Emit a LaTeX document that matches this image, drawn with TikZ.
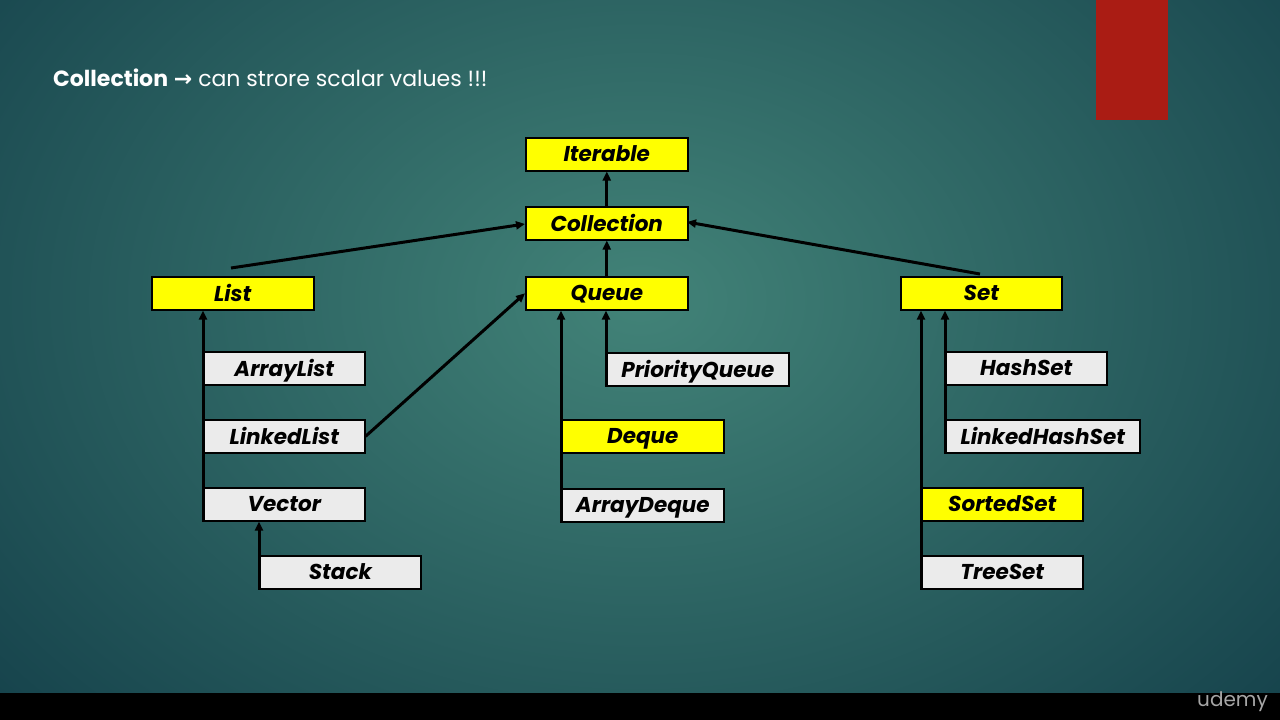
\documentclass[tikz,border=0pt]{standalone}
\usepackage{fontspec}
\setmainfont{Poppins}
\newfontfamily\symfont{DejaVu Sans}
\usetikzlibrary{arrows.meta}
\definecolor{bgin}{HTML}{428378}
\definecolor{bgout}{HTML}{14404A}
\definecolor{boxyel}{HTML}{FFFF00}
\definecolor{boxgray}{HTML}{EBEBEB}
\definecolor{redbar}{HTML}{AA1C14}
\tikzset{
  cls/.style={draw=black, line width=1.6pt, minimum height=33pt, inner sep=0pt, anchor=north west,
    font=\fontsize{21.5}{23}\selectfont\bfseries\itshape, text=black, text depth=1pt},
  yel/.style={cls, fill=boxyel},
  gry/.style={cls, fill=boxgray},
  link/.style={line width=3pt, -{Triangle[length=9pt,width=8pt]}},
}
\begin{document}
\begin{tikzpicture}[x=1pt,y=-1pt]
\useasboundingbox (0,0) rectangle (1280,720);
\shade[inner color=bgin, outer color=bgout] (-250,-350) rectangle (1530,950);
\fill[redbar] (1096,0) rectangle (1168,120);
\fill[black] (0,693) rectangle (1280,720);
\node[anchor=base west, text=white, font=\fontsize{22}{24}\selectfont, inner sep=0pt] (title) at (53,86)
  {\textbf{Collection} {\symfont\bfseries →} can strore scalar values !!!};
\node[anchor=base east, text=gray!70, font=\fontsize{20}{22}\selectfont, inner sep=0pt] (udemy) at (1268,706) {udemy};

\node[yel, minimum width=162pt] (iter) at (525,137) {Iterable};
\node[yel, minimum width=162pt] (coll) at (525,206) {Collection};
\node[yel, minimum width=162pt] (list) at (151,276) {List};
\node[yel, minimum width=162pt] (queue) at (525,276) {Queue};
\node[yel, minimum width=161pt] (set) at (900,276) {Set};
\node[gry, minimum width=161pt] (al) at (203,351) {ArrayList};
\node[gry, minimum width=161pt] (ll) at (203,419) {LinkedList};
\node[gry, minimum width=161pt] (vec) at (203,487) {Vector};
\node[gry, minimum width=161pt] (stack) at (259,555) {Stack};
\node[gry, minimum width=182pt] (pq) at (606,352) {PriorityQueue};
\node[yel, minimum width=162pt] (deq) at (561,419) {Deque};
\node[gry, minimum width=162pt] (ad) at (561,488) {ArrayDeque};
\node[gry, minimum width=161pt] (hs) at (945,351) {HashSet};
\node[gry, minimum width=194pt] (lhs) at (945,419) {LinkedHashSet};
\node[yel, minimum width=161pt] (ss) at (921,487) {SortedSet};
\node[gry, minimum width=161pt] (ts) at (921,555) {TreeSet};

\coordinate (listtop) at (231,268);
\coordinate (settop) at (980,274);
\draw[link] (coll.north) -- (iter.south);
\draw[link] (queue.north) -- (coll.south);
\draw[link] (listtop) -- (525,224);
\draw[link] (settop) -- (687,222);
\draw[link] (vec.south west) -- (list.south -| vec.west);
\draw[link] (stack.south west) -- (vec.south -| stack.west);
\draw[link] (ll.east) -- (queue.west);
\draw[link] (ad.south west) -- (queue.south -| ad.west);
\draw[link] (pq.south west) -- (queue.south -| pq.west);
\draw[link] (ts.south west) -- (set.south -| ts.west);
\draw[link] (lhs.south west) -- (set.south -| lhs.west);
\end{tikzpicture}
\end{document}
